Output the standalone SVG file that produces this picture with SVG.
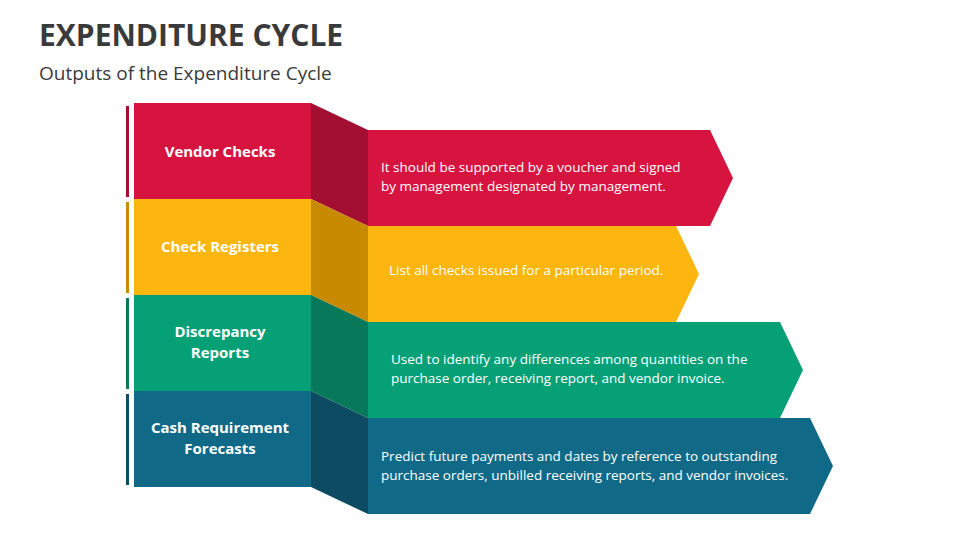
<svg xmlns="http://www.w3.org/2000/svg" width="960" height="540" viewBox="0 0 960 540">
<style>
.t{font-family:"Open Sans","Liberation Sans",sans-serif;fill:#fff}
.h{font-size:15px;font-weight:bold;text-anchor:middle}
.d{font-size:13.5px}
</style>
<rect width="960" height="540" fill="#fff"/>
<text x="39" y="46" font-family="Open Sans,Liberation Sans,sans-serif" font-weight="bold" font-size="30" fill="#3a3a3a">EXPENDITURE CYCLE</text>
<text x="39" y="80" font-family="Open Sans,Liberation Sans,sans-serif" font-size="19" fill="#3a3a3a">Outputs of the Expenditure Cycle</text>
<g id="connectors"></g>
<g id="n1">
<rect x="126" y="106" width="3" height="91" fill="#a50f33"/>
<rect x="134" y="103" width="177" height="96" fill="#d71440"/>
<polygon points="311,103 368,130 368,226 311,199" fill="#a30f31"/>
<polygon points="368,130 710,130 733,178 710,226 368,226" fill="#d71440"/>
<text class="t h" x="220" y="157">Vendor Checks</text>
<text class="t d" x="381" y="172">It should be supported by a voucher and signed</text>
<text class="t d" x="381" y="191">by management designated by management.</text>
</g>
<g id="n2">
<rect x="126" y="202" width="3" height="91" fill="#c88a00"/>
<rect x="134" y="199" width="177" height="96" fill="#fdb50f"/>
<polygon points="311,199 368,226 368,322 311,295" fill="#c88a00"/>
<polygon points="368,226 676,226 699,274 676,322 368,322" fill="#fdb50f"/>
<text class="t h" x="220" y="252">Check Registers</text>
<text class="t d" x="389" y="275">List all checks issued for a particular period.</text>
</g>
<g id="n3">
<rect x="126" y="298" width="3" height="91" fill="#07795a"/>
<rect x="134" y="295" width="177" height="96" fill="#06a077"/>
<polygon points="311,295 368,322 368,418 311,391" fill="#07795a"/>
<polygon points="368,322 780,322 803,370 780,418 368,418" fill="#06a077"/>
<text class="t h" x="220" y="337">Discrepancy</text>
<text class="t h" x="220" y="358">Reports</text>
<text class="t d" x="391" y="364">Used to identify any differences among quantities on the</text>
<text class="t d" x="391" y="383">purchase order, receiving report, and vendor invoice.</text>
</g>
<g id="n4">
<rect x="126" y="394" width="3" height="91" fill="#0c4d66"/>
<rect x="134" y="391" width="177" height="96" fill="#106a87"/>
<polygon points="311,391 368,418 368,514 311,487" fill="#0c4b61"/>
<polygon points="368,418 810,418 833,466 810,514 368,514" fill="#106a87"/>
<text class="t h" x="220" y="433">Cash Requirement</text>
<text class="t h" x="220" y="454">Forecasts</text>
<text class="t d" x="381" y="461">Predict future payments and dates by reference to outstanding</text>
<text class="t d" x="381" y="480">purchase orders, unbilled receiving reports, and vendor invoices.</text>
</g>
</svg>
